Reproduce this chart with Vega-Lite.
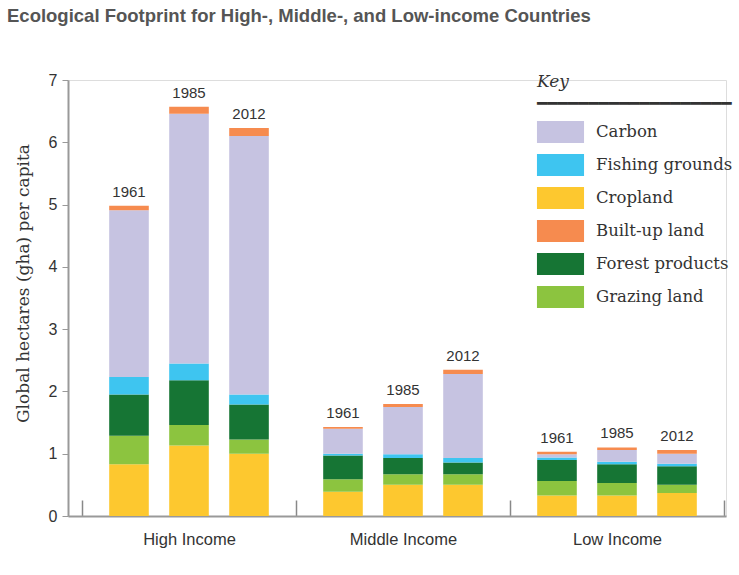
{
  "$schema": "https://vega.github.io/schema/vega-lite/v6.json",
  "width": 658,
  "height": 436,
  "autosize": "none",
  "padding": {"left": 68, "top": 80, "right": 13, "bottom": 59},
  "background": "white",
  "title": {
    "text": "Ecological Footprint for High-, Middle-, and Low-income Countries",
    "anchor": "start",
    "frame": "group",
    "dx": -61,
    "offset": 47,
    "font": "Liberation Sans, Arial, sans-serif",
    "fontSize": 18.5,
    "fontWeight": "bold",
    "color": "#555555"
  },
  "data": {
    "values": [
      {"group": "High Income", "year": "1961", "type": "Cropland", "value": 0.83},
      {"group": "High Income", "year": "1961", "type": "Grazing land", "value": 0.46},
      {"group": "High Income", "year": "1961", "type": "Forest products", "value": 0.66},
      {"group": "High Income", "year": "1961", "type": "Fishing grounds", "value": 0.28},
      {"group": "High Income", "year": "1961", "type": "Carbon", "value": 2.68},
      {"group": "High Income", "year": "1961", "type": "Built-up land", "value": 0.07},
      {"group": "High Income", "year": "1985", "type": "Cropland", "value": 1.13},
      {"group": "High Income", "year": "1985", "type": "Grazing land", "value": 0.33},
      {"group": "High Income", "year": "1985", "type": "Forest products", "value": 0.72},
      {"group": "High Income", "year": "1985", "type": "Fishing grounds", "value": 0.27},
      {"group": "High Income", "year": "1985", "type": "Carbon", "value": 4.01},
      {"group": "High Income", "year": "1985", "type": "Built-up land", "value": 0.11},
      {"group": "High Income", "year": "2012", "type": "Cropland", "value": 1.0},
      {"group": "High Income", "year": "2012", "type": "Grazing land", "value": 0.23},
      {"group": "High Income", "year": "2012", "type": "Forest products", "value": 0.56},
      {"group": "High Income", "year": "2012", "type": "Fishing grounds", "value": 0.16},
      {"group": "High Income", "year": "2012", "type": "Carbon", "value": 4.15},
      {"group": "High Income", "year": "2012", "type": "Built-up land", "value": 0.13},
      {"group": "Middle Income", "year": "1961", "type": "Cropland", "value": 0.39},
      {"group": "Middle Income", "year": "1961", "type": "Grazing land", "value": 0.2},
      {"group": "Middle Income", "year": "1961", "type": "Forest products", "value": 0.38},
      {"group": "Middle Income", "year": "1961", "type": "Fishing grounds", "value": 0.03},
      {"group": "Middle Income", "year": "1961", "type": "Carbon", "value": 0.4},
      {"group": "Middle Income", "year": "1961", "type": "Built-up land", "value": 0.03},
      {"group": "Middle Income", "year": "1985", "type": "Cropland", "value": 0.5},
      {"group": "Middle Income", "year": "1985", "type": "Grazing land", "value": 0.17},
      {"group": "Middle Income", "year": "1985", "type": "Forest products", "value": 0.26},
      {"group": "Middle Income", "year": "1985", "type": "Fishing grounds", "value": 0.06},
      {"group": "Middle Income", "year": "1985", "type": "Carbon", "value": 0.76},
      {"group": "Middle Income", "year": "1985", "type": "Built-up land", "value": 0.05},
      {"group": "Middle Income", "year": "2012", "type": "Cropland", "value": 0.5},
      {"group": "Middle Income", "year": "2012", "type": "Grazing land", "value": 0.17},
      {"group": "Middle Income", "year": "2012", "type": "Forest products", "value": 0.19},
      {"group": "Middle Income", "year": "2012", "type": "Fishing grounds", "value": 0.07},
      {"group": "Middle Income", "year": "2012", "type": "Carbon", "value": 1.35},
      {"group": "Middle Income", "year": "2012", "type": "Built-up land", "value": 0.07},
      {"group": "Low Income", "year": "1961", "type": "Cropland", "value": 0.33},
      {"group": "Low Income", "year": "1961", "type": "Grazing land", "value": 0.23},
      {"group": "Low Income", "year": "1961", "type": "Forest products", "value": 0.34},
      {"group": "Low Income", "year": "1961", "type": "Fishing grounds", "value": 0.04},
      {"group": "Low Income", "year": "1961", "type": "Carbon", "value": 0.05},
      {"group": "Low Income", "year": "1961", "type": "Built-up land", "value": 0.04},
      {"group": "Low Income", "year": "1985", "type": "Cropland", "value": 0.33},
      {"group": "Low Income", "year": "1985", "type": "Grazing land", "value": 0.2},
      {"group": "Low Income", "year": "1985", "type": "Forest products", "value": 0.3},
      {"group": "Low Income", "year": "1985", "type": "Fishing grounds", "value": 0.04},
      {"group": "Low Income", "year": "1985", "type": "Carbon", "value": 0.19},
      {"group": "Low Income", "year": "1985", "type": "Built-up land", "value": 0.04},
      {"group": "Low Income", "year": "2012", "type": "Cropland", "value": 0.37},
      {"group": "Low Income", "year": "2012", "type": "Grazing land", "value": 0.13},
      {"group": "Low Income", "year": "2012", "type": "Forest products", "value": 0.3},
      {"group": "Low Income", "year": "2012", "type": "Fishing grounds", "value": 0.04},
      {"group": "Low Income", "year": "2012", "type": "Carbon", "value": 0.16},
      {"group": "Low Income", "year": "2012", "type": "Built-up land", "value": 0.06}
    ]
  },
  "encoding": {
    "x": {
      "field": "group",
      "type": "nominal",
      "sort": ["High Income", "Middle Income", "Low Income"],
      "scale": {"paddingInner": 0, "paddingOuter": 0.0374, "align": 0.875},
      "axis": {
        "title": null,
        "labelAngle": 0,
        "tickBand": "extent",
        "tickSize": -16,
        "tickColor": "#888888",
        "tickWidth": 1.5,
        "domainColor": "#999999",
        "domainWidth": 2,
        "labelFont": "Liberation Sans, Arial, sans-serif",
        "labelFontSize": 16.5,
        "labelColor": "#333333",
        "labelPadding": 31
      }
    },
    "xOffset": {
      "field": "year",
      "type": "nominal",
      "scale": {"paddingInner": 0.34, "paddingOuter": 0.453}
    }
  },
  "layer": [
    {
      "transform": [
        {"calculate": "indexof(['Cropland','Grazing land','Forest products','Fishing grounds','Carbon','Built-up land'], datum.type)", "as": "stackOrder"}
      ],
      "mark": {"type": "bar"},
      "encoding": {
        "y": {
          "field": "value",
          "type": "quantitative",
          "stack": "zero",
          "scale": {"domain": [0, 7], "nice": false},
          "axis": {
            "title": "Global hectares (gha) per capita",
            "titleFont": "DejaVu Serif, serif",
            "titleFontSize": 17,
            "titleFontWeight": "normal",
            "titleColor": "#333333",
            "titlePadding": 16,
            "titleY": 203,
            "values": [0, 1, 2, 3, 4, 5, 6, 7],
            "format": "d",
            "grid": false,
            "tickSize": 6,
            "tickColor": "#999999",
            "domainColor": "#999999",
            "domainWidth": 2,
            "labelFont": "Liberation Sans, Arial, sans-serif",
            "labelFontSize": 16,
            "labelColor": "#333333",
            "labelPadding": 5
          }
        },
        "color": {
          "field": "type",
          "type": "nominal",
          "scale": {
            "domain": ["Carbon", "Fishing grounds", "Cropland", "Built-up land", "Forest products", "Grazing land"],
            "range": ["#c6c3e1", "#3ec5f0", "#fdc82f", "#f68b4f", "#167534", "#8cc43f"]
          },
          "legend": {
            "orient": "none",
            "legendX": 469,
            "legendY": -6,
            "title": ["Key", "━━━━━━━━━━━━━━━━━━━"],
            "titleFont": "DejaVu Serif, serif",
            "titleFontStyle": "italic",
            "titleFontWeight": "normal",
            "titleFontSize": 17,
            "titleColor": "#333333",
            "titleLineHeight": 22,
            "titleLimit": 400,
            "titlePadding": 8,
            "symbolType": "M-2.14,-1L2.14,-1L2.14,1L-2.14,1Z",
            "symbolSize": 484,
            "symbolStrokeWidth": 0,
            "symbolOpacity": 1,
            "symbolOffset": 12.5,
            "labelOffset": 24.5,
            "labelFont": "DejaVu Serif, serif",
            "labelFontSize": 16.5,
            "labelColor": "#333333",
            "labelLimit": 300,
            "rowPadding": 11,
            "padding": 0
          }
        },
        "order": {"field": "stackOrder", "type": "quantitative", "sort": "ascending"}
      }
    },
    {
      "transform": [
        {"aggregate": [{"op": "sum", "field": "value", "as": "total"}], "groupby": ["group", "year"]}
      ],
      "mark": {
        "type": "text",
        "baseline": "bottom",
        "dy": -6,
        "font": "Liberation Sans, Arial, sans-serif",
        "fontSize": 15,
        "color": "#333333"
      },
      "encoding": {
        "y": {"field": "total", "type": "quantitative"},
        "text": {"field": "year"}
      }
    }
  ]
}
